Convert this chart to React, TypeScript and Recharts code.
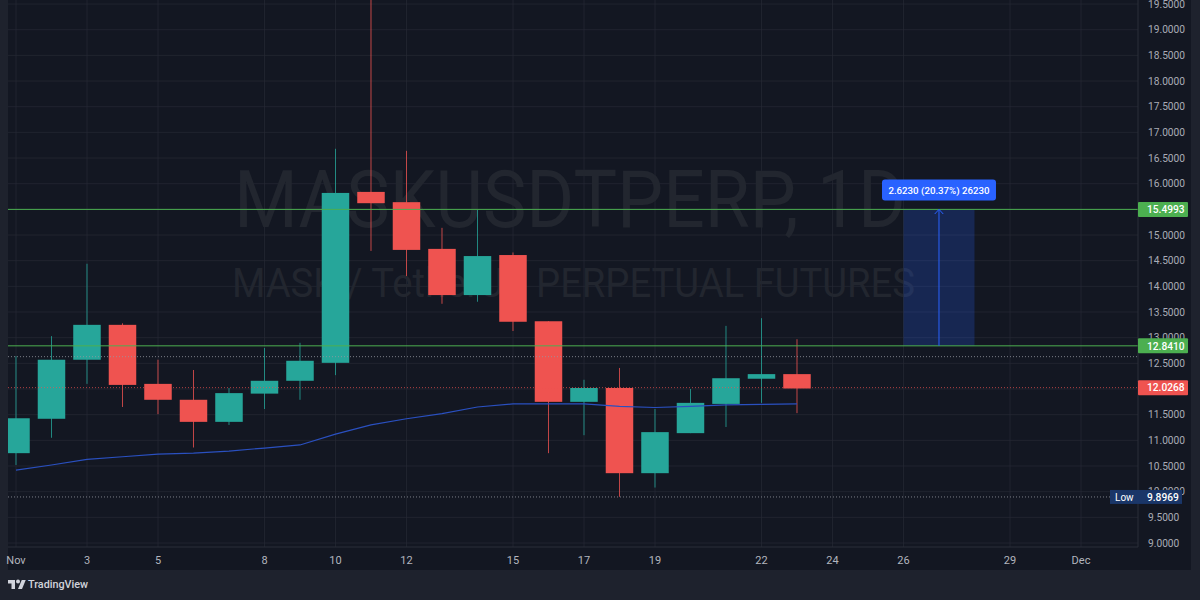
import { Bar, CartesianGrid, ComposedChart, Line, ReferenceArea, ReferenceDot, ReferenceLine, XAxis, YAxis } from 'recharts';

const days = [1, 2, 3, 4, 5, 6, 7, 8, 9, 10, 11, 12, 13, 14, 15, 16, 17, 18, 19, 20, 21, 22, 23];
const opens = [10.75, 11.42, 12.57, 13.25, 12.1, 11.79, 11.36, 11.91, 12.16, 12.51, 15.84, 15.64, 14.73, 13.83, 14.61, 13.32, 11.75, 12.02, 10.36, 11.14, 11.71, 12.2, 12.29];
const closes = [11.43, 12.57, 13.25, 12.08, 11.79, 11.36, 11.92, 12.16, 12.55, 15.82, 15.62, 14.71, 13.83, 14.59, 13.31, 11.75, 12.02, 10.36, 11.16, 11.73, 12.21, 12.29, 12.01];
const highs = [12.64, 13.03, 14.44, 13.28, 12.57, 12.37, 12.02, 12.8, 12.9, 16.68, 19.9, 16.64, 15.14, 15.49, 14.66, 13.32, 12.18, 12.41, 11.61, 12.0, 13.23, 13.38, 12.97];
const lows = [10.52, 11.05, 12.1, 11.65, 11.51, 10.86, 11.3, 11.61, 11.79, 12.27, 14.69, 14.2, 13.66, 13.7, 13.13, 10.75, 11.1, 9.9, 10.08, 11.14, 11.26, 11.73, 11.53];
const maValues = [10.42, 10.52, 10.63, 10.68, 10.73, 10.75, 10.79, 10.85, 10.91, 11.12, 11.3, 11.42, 11.52, 11.65, 11.71, 11.71, 11.71, 11.66, 11.64, 11.66, 11.69, 11.7, 11.71];

const priceTicks = [9, 9.5, 10, 10.5, 11, 11.5, 12, 12.5, 13, 13.5, 14, 14.5, 15, 15.5, 16, 16.5, 17, 17.5, 18, 18.5, 19, 19.5];
// 12.0 and 15.5 sit fully under the price tags
const priceLabelTicks = priceTicks.filter((t) => t !== 12 && t !== 15.5);
const timeTicks = [1, 3, 5, 8, 10, 12, 15, 17, 19, 22, 24, 26, 29, 31];
const timeLabels: Record<number, string> = { 1: 'Nov', 31: 'Dec' };

const targetPrice = 15.4993;
const entryPrice = 12.841;
const lastPrice = 12.0268;
const highPrice = 12.63;
const lowPrice = 9.8969;

const X_DOMAIN = [0.775, 32.606];
const Y_DOMAIN = [8.922, 19.5786];

const UP = '#26a69a';
const DOWN = '#ef5350';
const GREEN = '#4caf50';
const BLUE = '#2962ff';
const FONT = 'Roboto, sans-serif';

const rows = days.map((day, i) => ({
  day,
  open: opens[i],
  close: closes[i],
  high: highs[i],
  low: lows[i],
  range: [lows[i], highs[i]],
  ma: maValues[i],
}));

function Candle(props: any) {
  const { x, y, width, height, payload } = props;
  const { open, close, high, low } = payload;
  const perUnit = height / (high - low);
  const color = close >= open ? UP : DOWN;
  const cx = x + width / 2;
  const top = y + (high - Math.max(open, close)) * perUnit;
  const bodyH = Math.abs(close - open) * perUnit;
  return (
    <g>
      <line x1={cx} x2={cx} y1={y} y2={y + height} stroke={color} strokeOpacity={0.8} strokeWidth={1} />
      <rect x={x} y={top} width={width} height={bodyH} fill={color} />
    </g>
  );
}

function PriceTag(props: any) {
  const { viewBox, text, fill } = props;
  const x = viewBox.x + viewBox.width;
  return (
    <g>
      <rect x={x} y={viewBox.y - 7.5} width={50} height={15} rx={1} fill={fill} />
      <text x={x + 9} y={viewBox.y + 3.8} fontSize={10.2} fontWeight={500} fontFamily={FONT} fill="#ffffff">{text}</text>
    </g>
  );
}

function LowTag(props: any) {
  const { viewBox, text } = props;
  const x = viewBox.x + viewBox.width;
  return (
    <g>
      <rect x={x - 28} y={viewBox.y - 7} width={72} height={14} fill="#1a3668" />
      <text x={x - 23} y={viewBox.y + 3.8} fontSize={10} fontFamily={FONT} fill="#ffffff">Low</text>
      <text x={x + 9} y={viewBox.y + 3.8} fontSize={10.2} fontWeight={500} fontFamily={FONT} fill="#ffffff">{text}</text>
    </g>
  );
}

function MeasureTag(props: any) {
  const { viewBox, text } = props;
  const cx = viewBox.x + (viewBox.width || 0) / 2;
  const cy = viewBox.y + (viewBox.height || 0) / 2;
  return (
    <g>
      <rect x={cx - 57} y={cy - 30} width={114} height={21} rx={3} fill="#2962ff" />
      <text x={cx} y={cy - 15.8} textAnchor="middle" fontSize={9.7} fontWeight={500} fontFamily={FONT} fill="#ffffff">{text}</text>
    </g>
  );
}

export default function App() {
  return (
    <div style={{ position: 'fixed', left: 0, top: 0, width: 1200, height: 600, background: '#1e222d', overflow: 'hidden' }}>
      <div style={{ position: 'absolute', left: 8, top: 0, width: 1183, height: 570, background: '#131722' }} />
      <div style={{ position: 'absolute', left: 0, top: 0 }}>
        <ComposedChart width={1200} height={600} data={rows} margin={{ top: 0, right: 9, bottom: 30, left: 8 }}>
          <text x={234} y={227} fontSize={80} fontFamily={FONT} fill="#22262f" textLength={672} lengthAdjust="spacingAndGlyphs">MASKUSDTPERP, 1D</text>
          <text x={232} y={297} fontSize={40} fontFamily={FONT} fill="#22262f" textLength={683} lengthAdjust="spacingAndGlyphs">MASK / TetherUS PERPETUAL FUTURES</text>
          <CartesianGrid stroke="#262a35" strokeOpacity={0.7} horizontalValues={priceTicks} verticalValues={timeTicks} />
          <XAxis
            dataKey="day"
            type="number"
            domain={X_DOMAIN}
            allowDataOverflow
            ticks={timeTicks}
            interval={0}
            height={23}
            tickFormatter={(v: number) => timeLabels[v] ?? String(v)}
            tick={{ fontSize: 11, fontFamily: FONT, fill: '#b2b5be' }}
            tickLine={false}
            tickMargin={3}
            stroke="#2a2e39"
          />
          <YAxis
            orientation="right"
            type="number"
            domain={Y_DOMAIN}
            allowDataOverflow
            ticks={priceLabelTicks}
            interval={0}
            width={53}
            tickFormatter={(v: number) => v.toFixed(4)}
            tick={{ fontSize: 10.2, fontFamily: FONT, fill: '#a9acb6', textAnchor: 'start' }}
            tickLine={false}
            tickMargin={4}
            stroke="#2a2e39"
          />
          <ReferenceArea x1={26} x2={28} y1={entryPrice} y2={targetPrice} fill={BLUE} fillOpacity={0.22} stroke="none" />
          <ReferenceLine y={targetPrice} stroke={GREEN} />
          <ReferenceLine y={entryPrice} stroke={GREEN} />
          <ReferenceLine segment={[{ x: 27, y: entryPrice }, { x: 27, y: targetPrice }]} stroke={BLUE} />
          <ReferenceLine segment={[{ x: 26.88, y: targetPrice - 0.09 }, { x: 27, y: targetPrice }]} stroke={BLUE} />
          <ReferenceLine segment={[{ x: 27.12, y: targetPrice - 0.09 }, { x: 27, y: targetPrice }]} stroke={BLUE} />
          <Line dataKey="ma" type="linear" stroke="#2a50c0" strokeWidth={1.2} dot={false} activeDot={false} isAnimationActive={false} />
          <Bar dataKey="range" barSize={27.5} shape={<Candle />} isAnimationActive={false} />
        </ComposedChart>
      </div>
      {/* second layer with the same scales so the tags cover the axis labels */}
      <div style={{ position: 'absolute', left: 0, top: 0 }}>
        <ComposedChart width={1200} height={600} data={rows} margin={{ top: 0, right: 62, bottom: 53, left: 8 }}>
          <XAxis dataKey="day" type="number" domain={X_DOMAIN} allowDataOverflow hide />
          <YAxis type="number" domain={Y_DOMAIN} allowDataOverflow hide />
          <ReferenceLine y={highPrice} stroke="#9598a1" strokeOpacity={0.8} strokeDasharray="1 2" />
          <ReferenceLine y={lastPrice} stroke={DOWN} strokeOpacity={0.7} strokeDasharray="1 2" label={<PriceTag text={lastPrice.toFixed(4)} fill={DOWN} />} />
          <ReferenceLine y={lowPrice} stroke="#9598a1" strokeOpacity={0.8} strokeDasharray="1 2" label={<LowTag text={lowPrice.toFixed(4)} />} />
          <ReferenceLine y={targetPrice} stroke="none" label={<PriceTag text={targetPrice.toFixed(4)} fill={GREEN} />} />
          <ReferenceLine y={entryPrice} stroke="none" label={<PriceTag text={entryPrice.toFixed(4)} fill={GREEN} />} />
          <ReferenceDot x={27} y={targetPrice} r={0} stroke="none" fill="none" label={<MeasureTag text="2.6230 (20.37%) 26230" />} />
        </ComposedChart>
      </div>
      <svg style={{ position: 'absolute', left: 8, top: 578 }} width={18} height={14} viewBox="0 0 36 28">
        <path d="M14 22H7V11H0V4h14v18zM28 22h-8l7.5-18h8L28 22z" fill="#d1d4dc" />
        <circle cx="20" cy="7" r="4" fill="#d1d4dc" />
      </svg>
      <div style={{ position: 'absolute', left: 28, top: 577, fontFamily: FONT, fontSize: 10.8, fontWeight: 500, color: '#d1d4dc', lineHeight: '16px' }}>TradingView</div>
    </div>
  );
}
